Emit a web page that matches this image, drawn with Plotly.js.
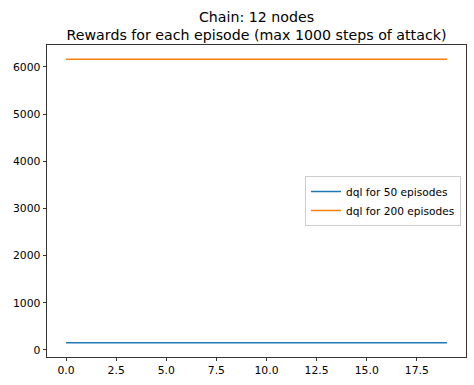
<!DOCTYPE html>
<html><head><meta charset="utf-8">
<script src="https://cdn.plot.ly/plotly-3.0.1.min.js"></script>
<style>html,body{margin:0;padding:0;background:#fff}#c{width:474px;height:385px}</style>
</head><body><div id="c"></div>
<script>
const episodes = [0,1,2,3,4,5,6,7,8,9,10,11,12,13,14,15,16,17,18,19];
const dql50 = [150,150,150,150,150,150,150,150,150,150,150,150,150,150,150,150,150,150,150,150];
const dql200 = [6165,6165,6165,6165,6165,6165,6165,6165,6165,6165,6165,6165,6165,6165,6165,6165,6165,6165,6165,6165];
const names = ['dql for 50 episodes','dql for 200 episodes'];
const xticks = [0,2.5,5,7.5,10,12.5,15,17.5];
const xtickText = ['0.0','2.5','5.0','7.5','10.0','12.5','15.0','17.5'];
const yticks = [0,1000,2000,3000,4000,5000,6000];

const font = {family:'DejaVu Sans', size:10.8, color:'#000'};
const legendFont = {family:'DejaVu Sans', size:10.6, color:'#000'};
const axisCommon = {showgrid:false, zeroline:false, showline:true, linecolor:'#000', linewidth:0.8, mirror:true,
  ticks:'outside', ticklen:3.6, tickwidth:0.8, tickcolor:'#000', tickfont:font};

Plotly.newPlot('c', [
  {x:episodes, y:dql50, mode:'lines', name:names[0], line:{color:'#1f77b4', width:1.5}},
  {x:episodes, y:dql200, mode:'lines', name:names[1], line:{color:'#ff7f0e', width:1.5}}
], {
  width:474, height:385,
  margin:{l:47, r:8, t:45, b:28},
  paper_bgcolor:'#fff', plot_bgcolor:'#fff',
  font:font,
  title:{text:'Chain: 12 nodes<br>Rewards for each episode (max 1000 steps of attack)', font:{family:'DejaVu Sans', size:14.2, color:'#000'}, x:0.5, xref:'paper', xanchor:'center', y:0.944, yref:'container', yanchor:'top'},
  xaxis:Object.assign({range:[-0.95,19.95], tickvals:xticks, ticktext:xtickText}, axisCommon),
  yaxis:Object.assign({range:[-150,6465], tickvals:yticks}, axisCommon),
  showlegend:true,
  legend:{x:0.988, xanchor:'right', y:0.5, yanchor:'middle', bgcolor:'rgba(255,255,255,0.8)', bordercolor:'#ccc', borderwidth:1, font:legendFont, tracegroupgap:0}
}, {displayModeBar:false, staticPlot:true});
</script></body></html>
